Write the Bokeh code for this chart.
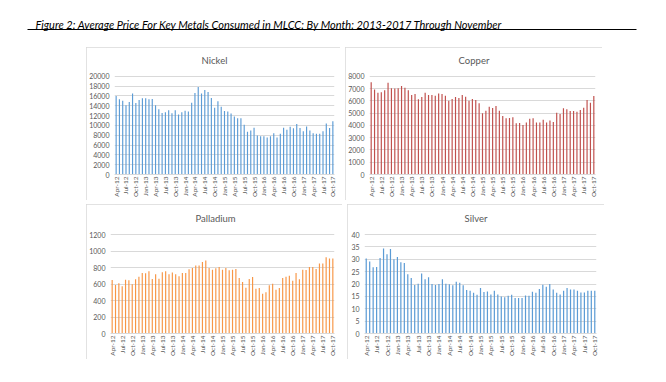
import math
from bokeh.plotting import figure
from bokeh.layouts import column, row, Spacer
from bokeh.models import FixedTicker, Range1d, Label
from bokeh.embed import file_html
from bokeh.resources import INLINE
from bokeh.core.properties import value

months = [
    "Apr-12", "May-12", "Jun-12", "Jul-12", "Aug-12", "Sep-12", "Oct-12", "Nov-12", "Dec-12",
    "Jan-13", "Feb-13", "Mar-13", "Apr-13", "May-13", "Jun-13", "Jul-13", "Aug-13", "Sep-13", "Oct-13", "Nov-13", "Dec-13",
    "Jan-14", "Feb-14", "Mar-14", "Apr-14", "May-14", "Jun-14", "Jul-14", "Aug-14", "Sep-14", "Oct-14", "Nov-14", "Dec-14",
    "Jan-15", "Feb-15", "Mar-15", "Apr-15", "May-15", "Jun-15", "Jul-15", "Aug-15", "Sep-15", "Oct-15", "Nov-15", "Dec-15",
    "Jan-16", "Feb-16", "Mar-16", "Apr-16", "May-16", "Jun-16", "Jul-16", "Aug-16", "Sep-16", "Oct-16", "Nov-16", "Dec-16",
    "Jan-17", "Feb-17", "Mar-17", "Apr-17", "May-17", "Jun-17", "Jul-17", "Aug-17", "Sep-17", "Oct-17",
]

tick_labels = [
    "Apr-12", "Jul-12", "Oct-12", "Jan-13", "Apr-13", "Jul-13", "Oct-13", "Jan-14",
    "Apr-14", "Jul-14", "Oct-14", "Jan-15", "Apr-15", "Jul-15", "Oct-15", "Jan-16",
    "Apr-16", "Jul-16", "Oct-16", "Jan-17", "Apr-17", "Jul-17", "Oct-17",
]

nickel = [
    16000, 15350, 15000, 14100, 14750, 16500, 14550, 15150, 15550, 15550, 15350, 15400,
    14100, 13300, 12500, 12700, 13100, 12450, 13100, 12200, 12700, 13000, 12850, 14600,
    16600, 17800, 16500, 17200, 16800, 15600, 13600, 14900, 13800, 12950, 12850, 12400,
    11800, 11450, 11450, 10150, 8700, 8950, 9500, 7950, 7800, 7800, 7550, 7800,
    8400, 7550, 8300, 9500, 9100, 9700, 9400, 10300, 9450, 8800, 9800, 8950,
    8400, 8300, 8300, 8800, 10400, 9450, 10850,
]

copper = [
    7520, 6930, 6660, 6710, 6870, 7470, 7030, 7010, 7030, 7200, 7060, 6870,
    6470, 6550, 6120, 6310, 6660, 6470, 6470, 6410, 6600, 6550, 6410, 6010,
    6150, 6310, 6230, 6470, 6330, 6010, 6150, 6060, 5800, 4990, 5200, 5520,
    5420, 5580, 5200, 4770, 4580, 4610, 4660, 4180, 4200, 4040, 4230, 4550,
    4580, 4230, 4230, 4450, 4230, 4390, 4280, 5040, 4930, 5390, 5310, 5170,
    5170, 5120, 5260, 5440, 6060, 5850, 6390,
]

palladium = [
    649, 588, 608, 572, 653, 645, 596, 657, 689, 734, 730, 754,
    661, 718, 665, 742, 754, 718, 738, 718, 693, 734, 734, 778,
    795, 823, 823, 868, 884, 795, 774, 790, 807, 774, 795, 766,
    774, 782, 673, 624, 555, 661, 685, 543, 551, 482, 499, 584,
    604, 531, 551, 673, 689, 701, 640, 734, 657, 774, 770, 807,
    807, 782, 847, 847, 924, 908, 908,
]

silver = [
    30.3, 29.1, 26.8, 26.9, 30.5, 34.3, 32.0, 34.1, 30.0, 30.9, 28.8, 28.5,
    23.9, 22.4, 19.6, 20.1, 24.2, 21.9, 22.7, 20.0, 19.6, 20.0, 21.9, 20.1,
    19.9, 19.5, 20.9, 20.5, 19.5, 17.6, 17.3, 16.5, 15.7, 18.4, 16.8, 17.0,
    15.8, 17.3, 15.8, 15.0, 14.6, 15.3, 15.7, 14.3, 14.3, 14.3, 15.4, 15.3,
    16.9, 16.5, 18.0, 19.7, 18.9, 20.0, 17.8, 16.5, 15.8, 17.3, 18.4, 17.8,
    17.8, 17.3, 16.6, 16.6, 17.3, 17.3, 17.3,
]

panel_titles = ["Nickel", "Copper", "Palladium", "Silver"]

FONT = "Lato"
GREY = "#595959"
tick_pos = [months.index(t) for t in tick_labels]
PLOT_PX = 99   # pixel height of the 0..max value band
TOP = 3


def make_panel(title, vals, color, ymax, ystep, w, h, left, right, bottom):
    n = len(months)
    frame_h = h - TOP - bottom
    p = figure(width=w, height=h, x_range=Range1d(-0.5, n - 0.5),
               y_range=Range1d(0, ymax * frame_h / PLOT_PX), output_backend="svg",
               toolbar_location=None,
               min_border_left=left, min_border_right=right,
               min_border_top=TOP, min_border_bottom=bottom)
    p.vbar(x=list(range(len(vals))), top=vals, width=0.35, fill_color=color, line_color=None)
    p.outline_line_color = None
    p.xgrid.visible = False
    p.ygrid.grid_line_color = "#d9d9d9"
    p.ygrid.grid_line_width = 1
    p.yaxis.ticker = FixedTicker(ticks=list(range(0, ymax + 1, ystep)))
    p.xaxis.ticker = FixedTicker(ticks=tick_pos)
    p.xaxis.major_label_overrides = {i: months[i] for i in tick_pos}
    p.xaxis.major_label_orientation = math.pi / 2
    for ax in (p.xaxis, p.yaxis):
        ax.major_label_text_font = FONT
        ax.major_label_text_color = GREY
        ax.major_tick_line_color = None
        ax.minor_tick_line_color = None
        ax.major_tick_out = 0
        ax.major_tick_in = 0
        ax.minor_tick_out = 0
        ax.minor_tick_in = 0
    p.yaxis.major_label_text_font_size = "7px"
    p.xaxis.major_label_text_font_size = "6.5px"
    p.yaxis.major_label_standoff = 5
    p.xaxis.major_label_standoff = 2
    p.yaxis.axis_line_color = None
    p.xaxis.axis_line_color = "#d9d9d9"
    lab = Label(x=(n - 1) / 2, y=ymax, x_offset=-(left - right) / 2, y_offset=16,
                text=title, text_align="center", text_baseline="middle",
                text_font=FONT, text_font_size="9.5px", text_color=GREY)
    p.add_layout(lab)
    p.styles = {"outline": "1px solid #d9d9d9", "outline-offset": "-1px"}
    return p


header = figure(width=658, height=47, x_range=Range1d(0, 658), y_range=Range1d(47, 0),
                output_backend="svg", toolbar_location=None, min_border=0)
header.axis.visible = False
header.grid.visible = False
header.outline_line_color = None
header.text(x=[35], y=[24], text=["Figure 2: Average Price For Key Metals Consumed in MLCC: By Month: 2013-2017 Through November"],
            text_font=value(FONT), text_font_style="italic", text_font_size="11px",
            text_color="#000000", text_baseline="alphabetic")
header.segment(x0=[27], y0=[29], x1=[636], y1=[29], line_color="#000000", line_width=1)

pn = make_panel(panel_titles[0], nickel, "#5b9bd5", 20000, 2000, 254, 153, 26, 6, 25)
pc = make_panel(panel_titles[1], copper, "#c0504d", 8000, 1000, 257, 153, 24, 7, 25)
pp = make_panel(panel_titles[2], palladium, "#f79646", 1200, 200, 256, 155, 22, 8, 26)
ps = make_panel(panel_titles[3], silver, "#5b9bd5", 40, 5, 257, 155, 17, 8, 26)

layout = column(
    header,
    row(Spacer(width=86), pn, Spacer(width=5), pc),
    Spacer(height=4),
    row(Spacer(width=86), pp, Spacer(width=5), ps),
)

open("out.html", "w").write(file_html(layout, INLINE))
